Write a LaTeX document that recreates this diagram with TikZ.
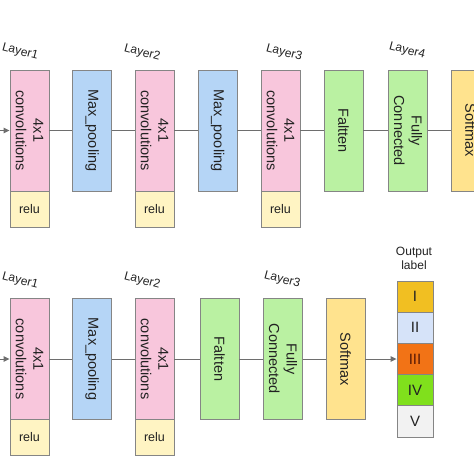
\documentclass[tikz,border=0pt]{standalone}
\usepackage{fontspec}
\setmainfont{Liberation Sans}
\usetikzlibrary{arrows.meta}
\definecolor{bord}{HTML}{858585}
\definecolor{linec}{HTML}{6E6E6E}
\definecolor{txt}{HTML}{222222}
\definecolor{pinkc}{HTML}{F8C6DC}
\definecolor{bluec}{HTML}{B5D5F6}
\definecolor{greenc}{HTML}{BAF1A2}
\definecolor{reluc}{HTML}{FFF4C3}
\definecolor{softc}{HTML}{FFE38E}
\definecolor{cI}{HTML}{F1BF22}
\definecolor{cII}{HTML}{D6E3F9}
\definecolor{cIII}{HTML}{F27316}
\definecolor{cIIItxt}{HTML}{5A1A05}
\definecolor{cIV}{HTML}{80E01C}
\definecolor{cV}{HTML}{F2F2F2}
\tikzset{
  lay/.style={draw=bord, line width=0.9pt, rotate=-90, minimum width=121pt, minimum height=39pt,
    inner sep=0pt, align=center, text=txt, font=\fontsize{14.5}{17.5}\selectfont},
  conv/.style={lay, fill=pinkc},
  pool/.style={lay, fill=bluec},
  dense/.style={lay, fill=greenc},
  soft/.style={lay, fill=softc},
  relubox/.style={draw=bord, line width=0.9pt, fill=reluc, minimum width=39pt, minimum height=36pt,
    inner sep=0pt, text=txt, font=\fontsize{12.5}{14}\selectfont},
  cell/.style={draw=bord, line width=0.9pt, minimum width=36pt, minimum height=31.2pt, inner sep=0pt,
    text=txt, font=\fontsize{15}{17}\selectfont},
  laylabel/.style={rotate=-15, inner sep=0pt, text=txt, font=\fontsize{12}{14}\selectfont},
  conn/.style={draw=linec, line width=0.9pt},
  arr/.style={conn, -{Triangle[length=6pt,width=5.5pt,fill=linec]}},
}
\begin{document}
\begin{tikzpicture}[x=1pt,y=-1pt]
\useasboundingbox (0,0) rectangle (474,474);
\clip (0,0) rectangle (474,474);
\fill[white] (0,0) rectangle (474,474);
% ---------- top row ----------
\coordinate (tin) at (0,130.5);
\node[conv]  (tc1) at (29.5,130.5) {4x1\\convolutions};
\node[relubox] (tr1) at (29.5,209) {relu};
\node[pool]  (tp1) at (92,130.5) {Max\_pooling};
\node[conv]  (tc2) at (154.5,130.5) {4x1\\convolutions};
\node[relubox] (tr2) at (154.5,209) {relu};
\node[pool]  (tp2) at (217.5,130.5) {Max\_pooling};
\node[conv]  (tc3) at (280.5,130.5) {4x1\\convolutions};
\node[relubox] (tr3) at (280.5,209) {relu};
\node[dense] (tf)  at (343.5,130.5) {Faltten};
\node[dense] (tfc) at (408,130.5) {Fully\\Connected};
\node[soft]  (ts)  at (470.5,130.5) {Softmax};
\node[laylabel] (tl1) at (20,52) {Layer1};
\node[laylabel] (tl2) at (142,53) {Layer2};
\node[laylabel] (tl3) at (284,53) {Layer3};
\node[laylabel] (tl4) at (407,51) {Layer4};
\draw[arr] (tin) -- (tc1);
\draw[conn] (tc1) -- (tp1);
\draw[conn] (tp1) -- (tc2);
\draw[conn] (tc2) -- (tp2);
\draw[conn] (tp2) -- (tc3);
\draw[conn] (tc3) -- (tf);
\draw[conn] (tf) -- (tfc);
\draw[conn] (tfc) -- (ts);
% ---------- bottom row ----------
\coordinate (bin) at (0,359);
\node[conv]  (bc1) at (29.5,359) {4x1\\convolutions};
\node[relubox] (br1) at (29.5,437.5) {relu};
\node[pool]  (bp1) at (92,359) {Max\_pooling};
\node[conv]  (bc2) at (154.5,359) {4x1\\convolutions};
\node[relubox] (br2) at (154.5,437.5) {relu};
\node[dense] (bf)  at (219.5,359) {Faltten};
\node[dense] (bfc) at (283,359) {Fully\\Connected};
\node[soft]  (bs)  at (345.5,359) {Softmax};
\node[laylabel] (bl1) at (20,281) {Layer1};
\node[laylabel] (bl2) at (142,281) {Layer2};
\node[laylabel] (bl3) at (282,280) {Layer3};
\node[cell, fill=cI]   (o1) at (415,296.6) {I};
\node[cell, fill=cII]  (o2) at (415,327.8) {II};
\node[cell, fill=cIII, text=cIIItxt] (o3) at (415,359) {III};
\node[cell, fill=cIV]  (o4) at (415,390.2) {IV};
\node[cell, fill=cV]   (o5) at (415,421.4) {V};
\node[inner sep=0pt, align=center, text=txt, font=\fontsize{12}{14}\selectfont] (ol) at (414,258) {Output\\label};
\draw[arr] (bin) -- (bc1);
\draw[conn] (bc1) -- (bp1);
\draw[conn] (bp1) -- (bc2);
\draw[conn] (bc2) -- (bf);
\draw[conn] (bf) -- (bfc);
\draw[conn] (bfc) -- (bs);
\draw[arr] (bs) -- (o3);
\end{tikzpicture}
\end{document}
